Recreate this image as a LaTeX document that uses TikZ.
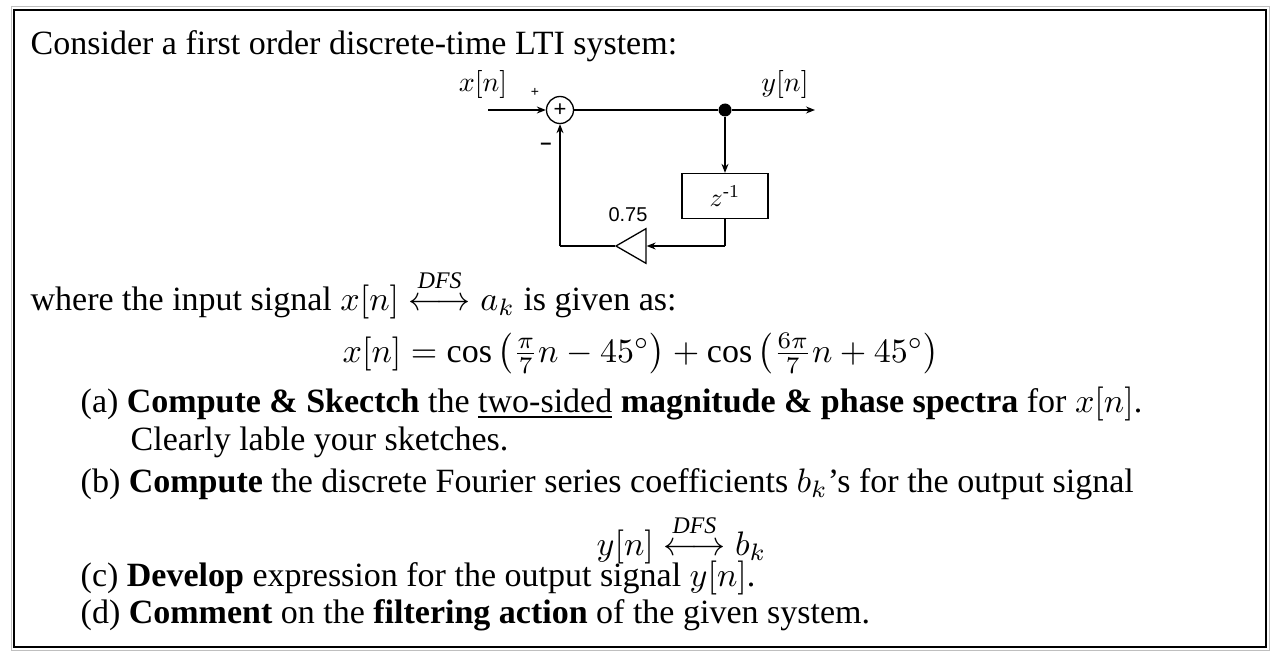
\documentclass[tikz,border=0pt]{standalone}
\usepackage{amsmath}
\usepackage{fontspec}
\setmainfont{Liberation Serif}
\newfontfamily\sansf{Liberation Sans}
\usetikzlibrary{arrows.meta,shapes.geometric}
\newcommand{\dfsarrow}{\mathrel{\overset{\scriptstyle\mathit{DFS}\rule[-1.5pt]{0pt}{0pt}}{\longleftrightarrow}}}
\begin{document}
\begin{tikzpicture}[x=1pt,y=-1pt,
  txt/.style={anchor=base west,inner sep=0pt,font=\fontsize{10}{12}\selectfont,scale=3.4},
  wire/.style={line width=1.3pt},
  arr/.style={wire,-{Stealth[length=9pt,width=7pt]}}]
\useasboundingbox (0,0) rectangle (1280,658);
\draw[gray!50,line width=1pt] (11,7) rectangle (1269,650);
\draw[line width=1.4pt] (14,10) rectangle (1266,647);
\node[txt] (t1) at (30,55) {Consider a first order discrete-time LTI system:};
% block diagram
\node[circle,draw,line width=1.3pt,minimum size=27pt,inner sep=0pt,font=\sansf\fontsize{22}{22}\selectfont] (sum) at (560,110) {+};
\coordinate (in) at (488,110);
\node[circle,fill,minimum size=13pt,inner sep=0pt] (dot) at (725,110) {};
\coordinate (out) at (815,110);
\node[draw,line width=1.3pt,minimum width=86pt,minimum height=45pt,inner sep=0pt] (z) at (725,196) {};
\node[font=\fontsize{10}{10}\selectfont,scale=2.6] (zl) at (z) {$z^{\text{-}1}$};
\node[isosceles triangle,shape border rotate=180,draw,line width=1.3pt,minimum height=30pt,minimum width=28pt,inner sep=0pt,isosceles triangle apex angle=60] (g) at (636,246) {};
\coordinate (c1) at (725,246);
\coordinate (c2) at (560,246);
\draw[arr] (in) -- (sum);
\draw[wire] (sum) -- (dot);
\draw[arr] (dot) -- (out);
\draw[arr] (dot) -- (z);
\draw[wire] (z.south) -- (c1);
\draw[arr] (c1) -- (g.east);
\draw[wire] (g.apex) -- (c2);
\draw[arr] (c2) -- (sum);
\node[font=\fontsize{10}{10}\selectfont,scale=2.8,anchor=base] (xl) at (483,92) {$x[n]$};
\node[font=\fontsize{10}{10}\selectfont,scale=2.8,anchor=base] (yl) at (785,92) {$y[n]$};
\node[font=\sansf\fontsize{14}{14}\selectfont] (pl) at (535,92) {+};
\node[font=\sansf\bfseries\fontsize{20}{20}\selectfont] (ml) at (546,146) {–};
\node[font=\sansf\fontsize{20}{20}\selectfont] (gl) at (628,215) {0.75};
% text
\node[txt] (t2) at (30,310) {where the input signal $x[n]\dfsarrow a_k$ is given as:};
\node[txt] (eq) at (342,362) {$x[n]=\cos\left(\frac{\pi}{7}n-45^{\circ}\right)+\cos\left(\frac{6\pi}{7}n+45^{\circ}\right)$};
\node[txt] (ta) at (80,412) {(a) \textbf{Compute \& Skectch} the \underline{two-sided} \textbf{magnitude \& phase spectra} for $x[n]$.};
\node[txt] (ta2) at (130,450) {Clearly lable your sketches.};
\node[txt] (tb) at (80,492) {(b) \textbf{Compute} the discrete Fourier series coefficients $b_k$'s for the output signal};
\node[txt] (tb2) at (596,555) {$y[n]\dfsarrow b_k$};
\node[txt] (tc) at (80,586) {(c) \textbf{Develop} expression for the output signal $y[n]$.};
\node[txt] (td) at (80,623) {(d) \textbf{Comment} on the \textbf{filtering action} of the given system.};
\end{tikzpicture}
\end{document}
